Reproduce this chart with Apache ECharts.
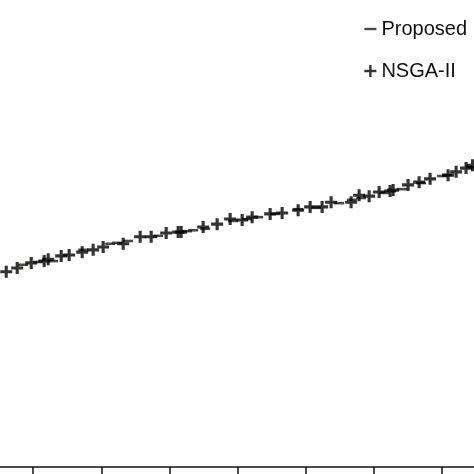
<!DOCTYPE html>
<html>
<head>
<meta charset="utf-8">
<script src="https://cdn.jsdelivr.net/npm/echarts@6/dist/echarts.min.js"></script>
<style>
html,body{margin:0;padding:0;width:474px;height:474px;overflow:hidden;background:#fff;}
#chart{position:absolute;left:-35px;top:0;width:545px;height:474px;}
</style>
</head>
<body>
<div id="chart"></div>
<script>
// Proposed (dash markers)
const proposedX = [0.854,1.074,1.294,1.735,2.131,2.234,2.395,2.835,3.261,3.349,3.525,3.936,4.141,4.303,4.552,4.890,5.154,5.492,5.682,5.815,6.152,6.416,6.695,7.003,7.077,7.429];
const proposedY = [43.3,43.9,44.1,46.5,47.8,48.0,48.4,49.5,50.5,50.7,51.0,52.7,53.1,53.5,54.2,55.2,55.5,56.5,57.2,57.6,58.7,59.5,60.8,62.3,62.5,64.2];
// NSGA-II (plus markers)
const nsgaX = [0.605,0.766,0.972,1.162,1.221,1.412,1.529,1.720,1.881,2.028,2.322,2.571,2.733,2.953,3.129,3.173,3.496,3.701,3.892,4.068,4.215,4.479,4.655,4.890,5.066,5.242,5.374,5.668,5.785,5.932,6.079,6.240,6.284,6.504,6.666,6.827,7.091,7.209,7.355,7.45];
const nsgaY = [41.8,42.6,43.7,44.1,44.5,45.2,45.4,46.0,46.5,47.1,47.8,49.3,49.3,50.1,50.3,50.3,51.4,52.0,53.1,52.9,53.5,54.2,54.4,55.0,55.7,55.7,56.7,56.7,58.2,58.0,58.9,59.1,59.3,60.4,61.0,61.7,62.5,63.2,64.0,64.6];
const xTicks = {min:0, max:8, interval:1};
const seriesNames = ['Proposed','NSGA-II'];

const plusPath = 'path://M3.7,0H6.3V3.7H10V6.3H6.3V10H3.7V6.3H0V3.7H3.7Z';
const dashPath = 'path://M0,3.7H10V6.3H0Z';
const legendPlus = 'path://M4,0H6V4H10V6H6V10H4V6H0V4H4Z';
const legendDash = 'path://M0,4H10V6H0Z';

const chart = echarts.init(document.getElementById('chart'));
chart.setOption({
  animation:false,
  backgroundColor:'#fff',
  grid:{left:0,right:0,top:0,bottom:7},
  legend:{
    orient:'vertical', right:38, top:14, itemGap:22,
    itemWidth:12, itemHeight:12, symbolKeepAspect:true,
    textStyle:{fontSize:20, color:'#111', fontFamily:'Liberation Sans, Arial, sans-serif'},
    data:[{name:seriesNames[0], icon:legendDash},{name:seriesNames[1], icon:legendPlus}]
  },
  xAxis:{
    type:'value', min:xTicks.min, max:xTicks.max, interval:xTicks.interval,
    axisLine:{show:true,lineStyle:{color:'#111',width:1.5}},
    axisTick:{show:true,inside:false,length:8,lineStyle:{color:'#111',width:1.5}},
    axisLabel:{show:false}, splitLine:{show:false}
  },
  yAxis:{type:'value', min:0, max:100, show:false},
  series:[
    {name:seriesNames[0], type:'scatter', symbol:dashPath, symbolSize:[10,10], symbolKeepAspect:true,
     itemStyle:{color:'#142014'}, data:proposedX.map((x,i)=>[x,proposedY[i]]), z:2},
    {name:seriesNames[1], type:'scatter', symbol:plusPath, symbolSize:12,
     itemStyle:{color:'#000'}, data:nsgaX.map((x,i)=>[x,nsgaY[i]]), z:3}
  ]
});
</script>
</body>
</html>
